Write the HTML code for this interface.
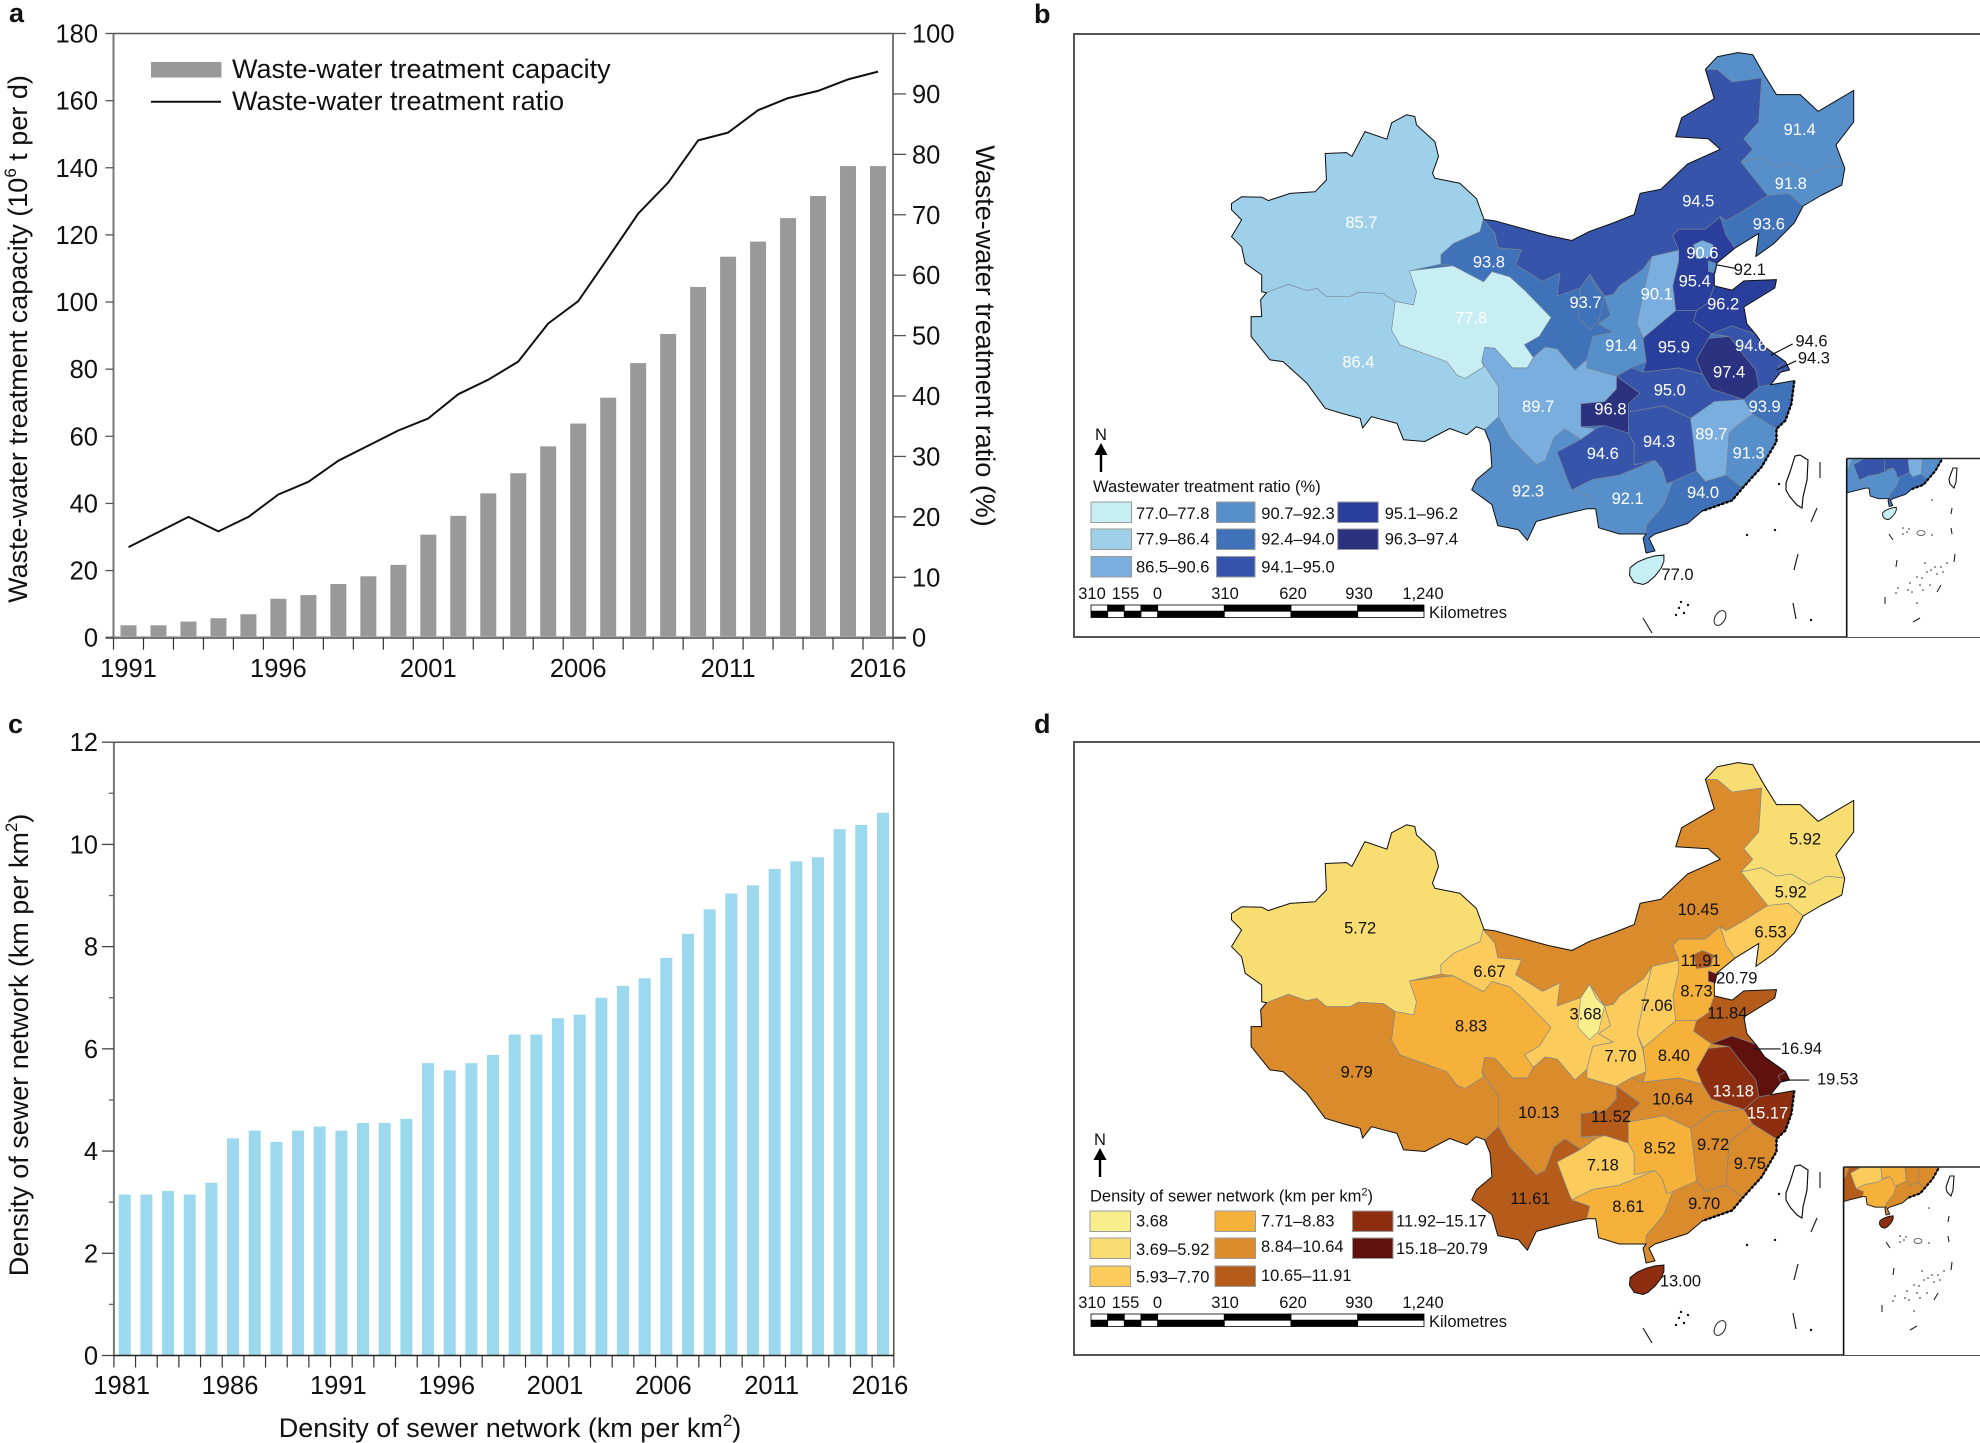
<!DOCTYPE html>
<html lang="en">
<head>
<meta charset="utf-8">
<title>Waste-water treatment and sewer network density in China</title>
<style>
html,body{margin:0;padding:0;background:#fff;}
svg{display:block;font-family:"Liberation Sans",sans-serif;}
.t{font-size:27px;fill:#111;}
.tk{font-size:25.5px;fill:#111;}
.p{font-size:27px;font-weight:bold;fill:#111;}
.m{font-size:16.5px;fill:#111;}
</style>
</head>
<body>
<svg id="fig" xmlns="http://www.w3.org/2000/svg" width="1980" height="1443" viewBox="0 0 1980 1443">
  <rect x="0" y="0" width="1980" height="1443" fill="#fff"/>
  <text class="p" x="9" y="22">a</text>
  <text class="p" x="1034" y="23">b</text>
  <text class="p" x="8" y="733">c</text>
  <text class="p" x="1034" y="733">d</text>

  <g id="chartA"></g>
  <g id="chartC"></g>
  <g id="mapB"></g>
  <g id="mapD"></g>

  <rect x="151" y="62" width="70.5" height="15.5" fill="#999"/>
  <text class="t" x="232" y="78">Waste-water treatment capacity</text>
  <line x1="151" y1="101.7" x2="221" y2="101.7" stroke="#111" stroke-width="2"/>
  <text class="t" x="232" y="110">Waste-water treatment ratio</text>

  <text class="t" text-anchor="middle" transform="translate(27,339) rotate(-90)">Waste-water treatment capacity (10<tspan font-size="17" dy="-11">6</tspan><tspan dy="11"> t per d)</tspan></text>
  <text class="t" text-anchor="middle" transform="translate(976,336) rotate(90)">Waste-water treatment ratio (%)</text>
  <text class="t" text-anchor="middle" transform="translate(28,1045) rotate(-90)">Density of sewer network (km per km<tspan font-size="17" dy="-11">2</tspan><tspan dy="11">)</tspan></text>
  <text class="t" text-anchor="middle" x="510" y="1437">Density of sewer network (km per km<tspan font-size="17" dy="-11">2</tspan><tspan dy="11">)</tspan></text>
</svg>

<script>
// ---------- chart a data ----------
const yearsA = [1991,1992,1993,1994,1995,1996,1997,1998,1999,2000,2001,2002,2003,2004,2005,2006,2007,2008,2009,2010,2011,2012,2013,2014,2015,2016];
const capacity = [3.7,3.7,4.8,5.8,7,11.6,12.7,16,18.3,21.7,30.7,36.3,43,49,57,63.8,71.5,81.8,90.5,104.5,113.5,118,125,131.6,140.5,140.5];
const ratio = [15,17.5,20,17.6,20,23.7,25.8,29.3,31.8,34.3,36.3,40.3,42.7,45.7,52,55.7,62.9,70.2,75.3,82.3,83.6,87.3,89.3,90.5,92.4,93.7];
const capacityTicks = [0,20,40,60,80,100,120,140,160,180];
const ratioTicks = [0,10,20,30,40,50,60,70,80,90,100];
const yearLabelsA = [1991,1996,2001,2006,2011,2016];

// ---------- chart c data ----------
const yearsC = [1981,1982,1983,1984,1985,1986,1987,1988,1989,1990,1991,1992,1993,1994,1995,1996,1997,1998,1999,2000,2001,2002,2003,2004,2005,2006,2007,2008,2009,2010,2011,2012,2013,2014,2015,2016];
const density = [3.15,3.15,3.22,3.15,3.38,4.25,4.4,4.18,4.4,4.48,4.4,4.55,4.55,4.63,5.72,5.58,5.72,5.88,6.28,6.28,6.6,6.67,7.0,7.23,7.38,7.78,8.25,8.73,9.04,9.2,9.52,9.67,9.75,10.3,10.38,10.62];
const densityMajorTicks = [0,2,4,6,8,10,12];
const densityMinorTicks = [1,3,5,7,9,11];
const yearLabelsC = [1981,1986,1991,1996,2001,2006,2011,2016];

// ---------- choropleth data ----------
const provinces = ['xinjiang','tibet','qinghai','gansu','ningxia','shaanxi','inner-mongolia','heilongjiang','jilin','liaoning','hebei','beijing','tianjin','shanxi','shandong','henan','jiangsu','shanghai','anhui','hubei','chongqing','sichuan','yunnan','guizhou','hunan','jiangxi','zhejiang','fujian','guangxi','guangdong','hainan'];
const ratioByProvince = [85.7,86.4,77.8,93.8,93.7,91.4,94.5,91.4,91.8,93.6,95.4,90.6,92.1,90.1,96.2,95.9,94.6,94.3,97.4,95.0,96.8,89.7,92.3,94.6,94.3,89.7,93.9,91.3,92.1,94.0,77.0];
const densityByProvince = [5.72,9.79,8.83,6.67,3.68,7.70,10.45,5.92,5.92,6.53,8.73,11.91,20.79,7.06,11.84,8.40,16.94,19.53,13.18,10.64,11.52,10.13,11.61,7.18,8.52,9.72,15.17,9.75,8.61,9.70,13.00];
const ratioBinLabels = ['77.0–77.8','77.9–86.4','86.5–90.6','90.7–92.3','92.4–94.0','94.1–95.0','95.1–96.2','96.3–97.4'];
const ratioBinMax = [77.8,86.4,90.6,92.3,94.0,95.0,96.2,97.4];
const densityBinLabels = ['3.68','3.69–5.92','5.93–7.70','7.71–8.83','8.84–10.64','10.65–11.91','11.92–15.17','15.18–20.79'];
const densityBinMax = [3.68,5.92,7.70,8.83,10.64,11.91,15.17,20.79];
const ratioColors = ['#c7eef2','#9fd0ea','#7aaede','#578fcb','#3f72b9','#3654aa','#2a3e9b','#2b3280'];
const densityColors = ['#f9ee8c','#f8dd72','#fbcb5c','#f5b13a','#da8b2c','#b55c1a','#8e2e10','#60100d'];

// ---------- map geometry (outlines traced from the basemap, not data) ----------
const shapes = {
 'xinjiang':[306,484,323,468,357,469,368,477,405,460,447,456,466,428,464,365,500,363,509,372,531,313,568,331,576,292,601,273,615,277,618,297,649,337,655,372,645,412,649,424,691,436,719,472,732,522,725,551,680,579,659,606,659,628,606,644,618,694,613,725,582,717,562,698,520,695,506,705,466,705,450,686,433,691,402,676,365,696,357,694,357,654,329,626,323,587,306,563,323,523,306,499],
 'tibet':[365,696,402,676,433,691,450,686,466,705,506,705,520,695,562,698,582,717,576,785,590,820,669,860,686,892,700,900,731,872,728,860,756,919,756,991,733,1022,719,1015,703,1034,674,1019,632,1050,596,1046,585,1007,542,991,527,1018,523,995,492,983,464,971,433,911,393,860,371,856,339,800,339,753,357,753,355,713],
 'qinghai':[606,644,680,632,731,670,745,646,775,658,800,690,845,755,825,800,800,820,815,850,805,875,780,875,750,828,733,826,728,860,731,872,700,900,686,892,669,860,590,820,576,785,582,717,613,725,618,694],
 'gansu':[730,522,750,554,755,589,795,594,785,629,830,669,860,649,855,704,895,684,910,652,935,704,945,750,925,770,950,790,915,800,905,855,885,880,855,830,835,825,815,850,800,820,825,800,845,755,800,690,775,658,745,646,731,670,680,632,659,628,659,606,680,579,725,551],
 'ningxia':[910,652,920,684,935,704,925,764,910,784,890,754,895,684],
 'shaanxi':[960,680,1000,640,1015,610,1000,700,990,770,1000,810,1005,860,980,875,955,895,905,875,905,855,915,800,950,790,925,770,945,750,935,704,950,700],
 'inner-mongolia':[730,522,750,525,840,560,880,572,910,550,950,530,985,510,995,460,1030,450,1075,390,1130,355,1110,330,1055,325,1065,280,1120,235,1105,165,1125,165,1150,195,1200,185,1195,290,1170,330,1185,355,1165,385,1210,465,1165,505,1140,525,1130,515,1105,545,1060,545,1050,560,1060,595,1015,610,1000,640,960,680,950,700,935,704,910,652,895,684,855,704,860,649,830,669,785,629,795,594,755,589,750,554],
 'heilongjiang':[1105,165,1125,135,1160,125,1185,130,1205,180,1225,225,1265,225,1295,265,1355,215,1355,290,1325,345,1340,400,1310,395,1280,415,1250,390,1225,395,1200,375,1165,385,1185,355,1170,330,1195,290,1200,185,1150,195,1125,165],
 'jilin':[1165,385,1200,375,1225,395,1250,390,1280,415,1310,395,1340,400,1335,440,1300,465,1270,490,1245,460,1210,465],
 'liaoning':[1210,465,1245,460,1270,490,1255,530,1220,580,1190,610,1195,555,1155,590,1140,560,1130,515,1140,525,1165,505],
 'hebei':[1050,560,1060,545,1105,545,1130,515,1140,560,1155,590,1125,625,1120,650,1120,680,1110,720,1090,739,1055,739,1050,680,1060,620,1060,595],
 'beijing':[1085,582,1100,572,1118,582,1115,610,1090,615],
 'tianjin':[1110,620,1125,628,1122,650,1110,645],
 'shanxi':[1015,610,1060,595,1060,620,1050,680,1055,739,1000,804,990,770,1000,700],
 'shandong':[1085,764,1090,739,1110,720,1120,680,1150,690,1170,668,1225,665,1222,685,1170,730,1175,770,1190,795,1150,775,1115,794],
 'henan':[1000,804,1055,739,1090,739,1085,764,1115,794,1110,805,1090,855,1100,890,1060,875,1000,885,1005,860],
 'jiangsu':[1115,794,1150,775,1190,795,1205,825,1240,860,1228,870,1232,885,1215,915,1195,920,1190,880,1170,845,1145,800],
 'shanghai':[1228,870,1240,860,1247,880,1232,885],
 'anhui':[1110,805,1145,800,1170,845,1190,880,1195,920,1170,950,1115,925,1100,890,1090,855],
 'hubei':[955,895,980,875,1000,885,1060,875,1100,890,1115,925,1170,950,1120,955,1080,995,1035,965,975,980,975,960,995,935],
 'chongqing':[955,895,995,935,975,960,975,1030,935,1012,895,1015,895,960,935,955,955,925],
 'sichuan':[733,826,750,828,780,875,805,875,815,850,835,825,855,830,885,880,905,855,905,875,955,895,955,925,935,955,895,960,895,1015,920,1020,895,1045,868,1020,850,1040,835,1095,820,1105,775,1040,762,1005,756,991,756,919,728,860],
 'yunnan':[733,1022,756,991,762,1005,775,1040,820,1105,835,1095,850,1040,868,1020,895,1045,855,1075,875,1150,880,1165,910,1180,905,1210,860,1225,820,1240,805,1285,790,1260,755,1250,745,1200,711,1165,719,1141,745,1110,742,1054],
 'guizhou':[895,1045,920,1020,935,1012,975,1030,985,1055,985,1105,1020,1095,960,1130,915,1140,880,1165,875,1150,855,1075],
 'hunan':[975,980,1035,965,1080,995,1085,1050,1090,1120,1050,1145,1040,1150,1032,1115,1020,1095,985,1105,985,1055,975,1030],
 'jiangxi':[1080,995,1120,955,1170,950,1185,985,1160,1010,1145,1030,1140,1130,1105,1145,1090,1120,1085,1050],
 'zhejiang':[1170,950,1195,920,1215,915,1255,905,1250,960,1240,1000,1225,1020,1185,985],
 'fujian':[1145,1030,1160,1010,1185,985,1225,1020,1225,1050,1200,1110,1168,1160,1140,1130],
 'guangxi':[880,1165,915,1140,960,1130,1020,1095,1032,1115,1040,1150,1050,1145,1035,1200,1005,1250,1005,1270,960,1270,925,1255,920,1210,905,1210,910,1180],
 'guangdong':[1050,1145,1090,1120,1105,1145,1140,1130,1168,1160,1150,1190,1100,1215,1075,1245,1020,1270,1010,1280,1020,1310,1005,1315,1000,1280,1005,1270,1005,1250,1035,1200],
 'hainan':[978,1350,990,1337,1005,1328,1020,1322,1035,1320,1035,1335,1030,1352,1020,1370,1008,1385,1000,1390,985,1385,977,1368]
};
const outlineShape = [306,484,323,468,357,469,368,477,405,460,447,456,466,428,464,365,500,363,509,372,531,313,568,331,576,292,601,273,615,277,618,297,649,337,655,372,645,412,649,424,691,436,719,472,732,522,750,525,840,560,880,572,910,550,950,530,985,510,995,460,1030,450,1075,390,1130,355,1110,330,1055,325,1065,280,1120,235,1105,165,1125,135,1160,125,1185,130,1205,180,1225,225,1265,225,1295,265,1355,215,1355,290,1325,345,1340,400,1335,440,1300,465,1270,490,1255,530,1220,580,1190,610,1195,555,1155,590,1125,625,1120,650,1120,680,1150,690,1170,668,1225,665,1222,685,1170,730,1175,770,1190,795,1205,825,1240,860,1247,880,1232,885,1215,915,1255,905,1250,960,1240,1000,1225,1020,1225,1050,1200,1110,1168,1160,1150,1190,1100,1215,1075,1245,1020,1270,1010,1280,1020,1310,1005,1315,1000,1280,1005,1270,960,1270,925,1255,920,1210,905,1210,860,1225,820,1240,805,1285,790,1260,755,1250,745,1200,711,1165,719,1141,745,1110,742,1054,733,1022,719,1015,703,1034,674,1019,632,1050,596,1046,585,1007,542,991,527,1018,523,995,492,983,464,971,433,911,393,860,371,856,339,800,339,753,357,753,355,713,365,696,357,694,357,654,329,626,323,587,306,563,323,523,306,499];
const roughCoast = [1255,905,1250,960,1240,1000,1225,1020,1225,1050,1200,1110,1168,1160,1150,1190,1100,1215];
// label anchors in basemap coordinates
const labelPosB = {'xinjiang':[525,528],'tibet':[520,860],'qinghai':[710,755],'gansu':[740,622],'ningxia':[903,718],'shaanxi':[963,820],'inner-mongolia':[1093,477],'heilongjiang':[1264,307],'jilin':[1249,435],'liaoning':[1212,532],'hebei':[1087,667],'beijing':[1100,600],'tianjin':[1180,640],'shanxi':[1023,698],'shandong':[1135,722],'henan':[1052,824],'jiangsu':[1182,820],'shanghai':[1288,850],'anhui':[1145,884],'hubei':[1045,926],'chongqing':[945,972],'sichuan':[823,966],'yunnan':[806,1166],'guizhou':[932,1077],'hunan':[1027,1049],'jiangxi':[1115,1031],'zhejiang':[1205,965],'fujian':[1178,1076],'guangxi':[974,1184],'guangdong':[1101,1170],'hainan':[1058,1365]};
const labelPosD = {'xinjiang':[523,517],'tibet':[517,860],'qinghai':[710,750],'gansu':[741,621],'ningxia':[903,722],'shaanxi':[962,822],'inner-mongolia':[1093,473],'heilongjiang':[1273,305],'jilin':[1249,432],'liaoning':[1215,527],'hebei':[1090,667],'beijing':[1097,594],'tianjin':[1158,636],'shanxi':[1023,702],'shandong':[1142,719],'henan':[1052,820],'jiangsu':[1267,804],'shanghai':[1328,876],'anhui':[1152,905],'hubei':[1050,924],'chongqing':[946,966],'sichuan':[824,956],'yunnan':[810,1161],'guizhou':[932,1081],'hunan':[1028,1040],'jiangxi':[1118,1032],'zhejiang':[1210,957],'fujian':[1180,1077],'guangxi':[975,1180],'guangdong':[1103,1172],'hainan':[1063,1357]};
const darkLabelsB = ['tianjin','shanghai','hainan'];
const whiteLabelsD = ['anhui','zhejiang'];
const leadersB = [[1125,630,1155,638],[1225,880,1258,858],[1215,845,1252,818]];
const leadersD = [[1185,806,1232,806],[1235,880,1280,880]];
// small islands, given in panel-b page pixels
const taiwanMain = [1786,483,1790,472,1795,456,1800,455,1808,460,1807,480,1803,497,1802,508,1797,505,1790,497,1786,490];
const taiwanInset = [1949,479,1953,468,1957,468,1956,482,1954,488,1950,484];
const dashesMain = [[1820,462,1820,478],[1817,508,1811,522],[1798,554,1794,570],[1793,603,1796,619],[1643,618,1652,633]];
const dashesInset = [[1889,534,1893,540],[1952,508,1951,514],[1951,528,1952,534],[1955,554,1954,562],[1897,560,1896,567],[1941,585,1937,592],[1885,597,1885,604],[1920,618,1913,622]];
const dotsMain = [[1779,484],[1775,530],[1811,620],[1747,535],[1679,608],[1684,613],[1676,615],[1688,605],[1681,602]];
const dotsInset = [[1932,535],[1932,500],[1903,528],[1907,532],[1909,529],[1903,534],[1925,563],[1935,567],[1947,563],[1927,572],[1917,577],[1937,574],[1920,585],[1930,585],[1910,583],[1898,588],[1896,593],[1908,590],[1923,590],[1917,603],[1941,567],[1922,578],[1912,592],[1943,572],[1931,570]];
const loopsMain = [[1720,618,5,8]];
const loopsInset = [[1921,533,4,2.5]];

// ---------- helpers ----------
const NS = 'http://www.w3.org/2000/svg';
function mk(tag, parent, attrs) {
  const n = document.createElementNS(NS, tag);
  for (const k in attrs) n.setAttribute(k, attrs[k]);
  parent.appendChild(n);
  return n;
}
function lineEl(parent, x1, y1, x2, y2, color, w) {
  return mk('line', parent, {x1:x1, y1:y1, x2:x2, y2:y2, stroke:color, 'stroke-width':w});
}
function textEl(parent, x, y, str, cls, anchor) {
  const n = mk('text', parent, {x:x, y:y, class:cls, 'text-anchor':anchor || 'start'});
  n.textContent = str;
  return n;
}

// ---------- chart a ----------
(function () {
  const g = document.getElementById('chartA');
  const left = 113.5, right = 893, top = 33.5, base = 637.7;
  const xBand = (right - left) / yearsA.length;
  const xA = i => left + xBand * (i + 0.5);
  const yCap = v => base - v * (base - top) / 180;
  const yRat = v => base - v * (base - top) / 100;

  capacity.forEach((v, i) => {
    const el = mk('rect', g, {x:xA(i) - 8, y:yCap(v), width:16, height:Math.max(0, base - 1.5 - yCap(v)), fill:'#999'});
    
    
  });

  const pts = ratio.map((v, i) => xA(i).toFixed(1) + ',' + yRat(v).toFixed(1)).join(' ');
  const ln = mk('polyline', g, {points:pts, fill:'none', stroke:'#111', 'stroke-width':2, 'stroke-linejoin':'round'});
  
  

  const lAxis = lineEl(g, left, top, left, base, '#777', 2);
  
  
  const rAxis = lineEl(g, right, top, right, base, '#555', 1.6);
  
  
  const tAxis = lineEl(g, left, top, right, top, '#555', 1.5);
  
  
  const bAxis = lineEl(g, left - 8, base, right + 13, base, '#777', 2.5);
  
  

  capacityTicks.forEach(v => {
    const t = lineEl(g, left - 8, yCap(v), left, yCap(v), '#555', 1.3);
    
    
    const lab = textEl(g, 98, yCap(v) + 9, String(v), 'tk', 'end');
    
    
  });
  ratioTicks.forEach(v => {
    const t = lineEl(g, right, yRat(v), right + 13, yRat(v), '#555', 1.3);
    
    
    const lab = textEl(g, 912, yRat(v) + 9, String(v), 'tk', 'start');
    
    
  });
  for (let i = 0; i <= yearsA.length; i++) {
    const x = left + xBand * i;
    const t = lineEl(g, x, base, x, base + 12, '#333', 1.2);
    
    
  }
  yearLabelsA.forEach(y => {
    const lab = textEl(g, xA(yearsA.indexOf(y)), 677, String(y), 'tk', 'middle');
    
    
  });
})();

// ---------- chart c ----------
(function () {
  const g = document.getElementById('chartC');
  const left = 113.9, right = 893.8, top = 742.2, base = 1355.5;
  const xBand = (right - left) / yearsC.length;
  const xC = i => left + xBand * (i + 0.5);
  const yC = v => base - v * (base - top) / 12;

  density.forEach((v, i) => {
    const el = mk('rect', g, {x:xC(i) - 6, y:yC(v), width:12, height:Math.max(0, base - yC(v)), fill:'#9cd9ef'});
    
    
  });

  const lAxis = lineEl(g, left, top, left, base, '#777', 2);
  
  
  const rAxis = lineEl(g, right, top, right, base, '#222', 1.2);
  
  
  const tAxis = lineEl(g, left, top, right, top, '#222', 1.2);
  
  
  const bAxis = lineEl(g, left, base, right, base, '#222', 1.5);
  
  

  densityMajorTicks.forEach(v => {
    const t = lineEl(g, left - 12, yC(v), left, yC(v), '#444', 1.3);
    
    
    const lab = textEl(g, 98, yC(v) + 9, String(v), 'tk', 'end');
    
    
  });
  densityMinorTicks.forEach(v => {
    const t = lineEl(g, left - 5, yC(v), left, yC(v), '#666', 1.3);
    
    
  });
  for (let i = 0; i <= yearsC.length; i++) {
    const x = left + xBand * i;
    const t = lineEl(g, x, base, x, base + 12, '#333', 1.2);
    
    
  }
  yearLabelsC.forEach(y => {
    const lab = textEl(g, xC(yearsC.indexOf(y)) - 3, 1394, String(y), 'tk', 'middle');
    
    
  });
})();

// ---------- maps ----------
function binOf(v, maxes) {
  for (let i = 0; i < maxes.length; i++) if (v <= maxes[i] + 1e-9) return i;
  return maxes.length - 1;
}
function drawMap(cfg) {
  const g = document.getElementById(cfg.id);
  const off = cfg.offY;
  const mx = x => 1050 + x * 0.5931;
  const my = y => off + y * 0.4205;
  const ptsStr = (a, fx, fy) => {
    const r = [];
    for (let i = 0; i < a.length; i += 2) r.push(fx(a[i]).toFixed(1) + ',' + fy(a[i + 1]).toFixed(1));
    return r.join(' ');
  };
  const clipId = cfg.id + '-inset-clip';
  const defs = mk('defs', g, {});
  const clip = mk('clipPath', defs, {id:clipId});
  const box = {x:cfg.frame[0], y:cfg.frame[1], w:cfg.frame[2], h:cfg.frame[3]};
  const ins = {x:cfg.inset[0], y:cfg.inset[1], w:box.x + box.w - cfg.inset[0], h:box.y + box.h - cfg.inset[1]};
  mk('rect', clip, {x:ins.x, y:ins.y, width:ins.w, height:ins.h});

  function drawCountry(parent, fx, fy, sw, suffix) {
    const baseFill = mk('polygon', parent, {points:ptsStr(outlineShape, fx, fy), fill:cfg.baseColor, stroke:'none'});
    
    
    provinces.forEach((name, i) => {
      const col = cfg.colors[binOf(cfg.values[i], cfg.maxes)];
      const p = mk('polygon', parent, {points:ptsStr(shapes[name], fx, fy), fill:col, stroke:'#7a8794', 'stroke-width':0.6 * sw, 'stroke-linejoin':'round'});
      
      
    });
    const coast = mk('polygon', parent, {points:ptsStr(outlineShape, fx, fy), fill:'none', stroke:'#111', 'stroke-width':1 * sw, 'stroke-linejoin':'round'});
    
    
    const rough = mk('polyline', parent, {points:ptsStr(roughCoast, fx, fy), fill:'none', stroke:'#000', 'stroke-width':2.4 * sw, 'stroke-dasharray':'3 1.5'});
    
    
    const hn = mk('polygon', parent, {points:ptsStr(shapes['hainan'], fx, fy), fill:cfg.colors[binOf(cfg.values[30], cfg.maxes)], stroke:'#111', 'stroke-width':1 * sw});
    
    
  }

  const frame = mk('rect', g, {x:box.x, y:box.y, width:box.w, height:box.h, fill:'#fff', stroke:'#555', 'stroke-width':2});
  
  

  drawCountry(g, mx, my, 1, '');

  const idY = y => y + cfg.islandY;
  const tw = mk('polygon', g, {points:ptsStr(taiwanMain, x => x, idY), fill:'#fff', stroke:'#111', 'stroke-width':1.2});
  
  
  dashesMain.forEach(d => {
    const l = lineEl(g, d[0], idY(d[1]), d[2], idY(d[3]), '#222', 1.2);
    
    
  });
  dotsMain.forEach(d => {
    const c = mk('circle', g, {cx:d[0], cy:idY(d[1]), r:1.2, fill:'#111'});
    
    
  });
  loopsMain.forEach(d => {
    const c = mk('ellipse', g, {cx:d[0], cy:idY(d[1]), rx:d[2], ry:d[3], fill:'none', stroke:'#222', 'stroke-width':1, transform:'rotate(30 ' + d[0] + ' ' + idY(d[1]) + ')'});
    
    
  });

  // inset
  const insetBg = mk('rect', g, {x:ins.x, y:ins.y, width:ins.w, height:ins.h, fill:'#fff'});
  
  
  const inG = mk('g', g, {'clip-path':'url(#' + clipId + ')'});
  
  
  const hx = mx(1005), hy = my(1355);
  const ihx = ins.x + 42.5, ihy = ins.y + 55;
  const ifx = x => ihx + (mx(x) - hx) * 0.40;
  const ify = y => ihy + (my(y) - hy) * 0.415;
  drawCountry(inG, ifx, ify, 0.9, '-inset');
  const sx = x => x + cfg.insetShiftX;
  const sy = y => y + cfg.insetShiftY;
  const tw2 = mk('polygon', inG, {points:ptsStr(taiwanInset, sx, sy), fill:'#fff', stroke:'#111', 'stroke-width':1.1});
  
  
  dashesInset.forEach(d => {
    const l = lineEl(inG, sx(d[0]), sy(d[1]), sx(d[2]), sy(d[3]), '#222', 1.1);
    
    
  });
  dotsInset.forEach(d => {
    const c = mk('circle', inG, {cx:sx(d[0]), cy:sy(d[1]), r:0.8, fill:'#222'});
    
    
  });
  loopsInset.forEach(d => {
    const c = mk('ellipse', inG, {cx:sx(d[0]), cy:sy(d[1]), rx:d[2], ry:d[3], fill:'none', stroke:'#444', 'stroke-width':0.8});
    
    
  });
  const iTop = lineEl(g, ins.x, ins.y, ins.x + ins.w, ins.y, '#222', 1.6);
  
  
  const iLeft = lineEl(g, ins.x, ins.y, ins.x, ins.y + ins.h, '#111', 1.6);
  
  

  // leaders
  cfg.leaders.forEach(d => {
    const l = lineEl(g, mx(d[0]), my(d[1]), mx(d[2]), my(d[3]), '#111', 1.2);
    
    
  });
  // value labels
  provinces.forEach((name, i) => {
    const pos = cfg.labelPos[name];
    const lab = textEl(g, mx(pos[0]), my(pos[1]) + 6, cfg.values[i].toFixed(cfg.digits), 'm', 'middle');
    lab.setAttribute('fill', cfg.isWhite(name) ? '#fff' : '#111');
    lab.style.fill = cfg.isWhite(name) ? '#fff' : '#111';
    
    
  });
  (cfg.extraLabels || []).forEach(e => {
    const lab = textEl(g, mx(e[0]), my(e[1]) + 6, e[2], 'm', 'middle');
    
    
  });

  // north arrow
  const n = textEl(g, cfg.north[0], cfg.north[1], 'N', 'm', 'middle');
  
  
  const shaft = lineEl(g, cfg.north[0], cfg.north[1] + 10, cfg.north[0], cfg.north[1] + 32, '#000', 2.4);
  
  
  const ax = cfg.north[0], ay = cfg.north[1];
  const head = mk('polygon', g, {points:(ax) + ',' + (ay + 3) + ' ' + (ax + 6.5) + ',' + (ay + 15) + ' ' + (ax - 6.5) + ',' + (ay + 15), fill:'#000'});
  
  

  // legend
  const title = textEl(g, cfg.legendTitle[0], cfg.legendTitle[1], '', 'm');
  
  
  title.textContent = cfg.titleText;
  if (cfg.titleSup) {
    const sup = mk('tspan', title, {'font-size':11, dy:-6});
    sup.textContent = cfg.titleSup;
    const rest = mk('tspan', title, {dy:6});
    rest.textContent = ')';
  }
  cfg.binLabels.forEach((txt, i) => {
    const c = cfg.legendSlots[i];
    const sw = mk('rect', g, {x:c[0], y:c[1], width:c[2], height:20.5, fill:cfg.colors[i], stroke:'#9a9a9a', 'stroke-width':1});
    
    
    const t = textEl(g, c[3], c[4], txt, 'm');
    
    
  });

  // scale bar
  const sEdge = [1091,1107.7,1124.3,1141,1157.7,1224.3,1291,1357.7,1424];
  const sTop = cfg.scaleY, sH = 12.5;
  sEdge.slice(0, -1).forEach((x, i) => {
    const w = sEdge[i + 1] - x;
    const a = mk('rect', g, {x:x, y:sTop, width:w, height:sH / 2, fill:i % 2 ? '#000' : '#fff', stroke:'#000', 'stroke-width':0.8});
    
    
    const b = mk('rect', g, {x:x, y:sTop + sH / 2, width:w, height:sH / 2, fill:i % 2 ? '#fff' : '#000', stroke:'#000', 'stroke-width':0.8});
    
    
  });
  const scaleTexts = [['310',1092],['155',1125.5],['0',1157.5],['310',1225],['620',1293],['930',1359],['1,240',1423]];
  scaleTexts.forEach(s => {
    const t = textEl(g, s[1], sTop - 6, s[0], 'm', 'middle');
    
    
  });
  const km = textEl(g, 1429, sTop + 13, 'Kilometres', 'm');
  
  
}

drawMap({
  id:'mapB', offY:0, islandY:0, frame:[1074,34,920,603], inset:[1846.7,458.5],
  insetShiftX:0, insetShiftY:0,
  values:ratioByProvince, maxes:ratioBinMax, colors:ratioColors, binLabels:ratioBinLabels, baseColor:'#3f72b9', digits:1,
  labelPos:labelPosB, isWhite:n => darkLabelsB.indexOf(n) < 0,
  leaders:leadersB, extraLabels:[[1284,810,'94.6']],
  north:[1101,440], legendTitle:[1093,492], titleText:'Wastewater treatment ratio (%)',
  legendSlots:[[1091,502,40.5,1136,519],[1091,529,40.5,1136,544.5],[1091,556.5,40.5,1136,572.3],[1216.5,502,38.5,1261.3,519],[1216.5,529,38.5,1261.3,544.5],[1216.5,556.5,38.5,1261.3,572.3],[1337.7,502,40.5,1384.7,519],[1337.7,529,40.5,1384.7,544.5]],
  scaleY:605
});
drawMap({
  id:'mapD', offY:710, islandY:710, frame:[1074,742,920,613], inset:[1843.6,1167],
  insetShiftX:-3, insetShiftY:708,
  values:densityByProvince, maxes:densityBinMax, colors:densityColors, binLabels:densityBinLabels, baseColor:'#da8b2c', digits:2,
  labelPos:labelPosD, isWhite:n => whiteLabelsD.indexOf(n) >= 0,
  leaders:leadersD, extraLabels:[],
  north:[1100,1145], legendTitle:[1090,1201.5], titleText:'Density of sewer network (km per km', titleSup:'2',
  legendSlots:[[1090,1211,40.5,1136,1226.7],[1090,1238,40.5,1136,1255],[1090,1266,40.5,1136,1282.7],[1215,1211,40.5,1261,1226.7],[1215,1238,40.5,1261,1252],[1215,1266,40.5,1261,1281],[1352.5,1211,40.5,1396,1226.7],[1352.5,1238,40.5,1396,1254]],
  scaleY:1314
});
</script>
</body>
</html>
